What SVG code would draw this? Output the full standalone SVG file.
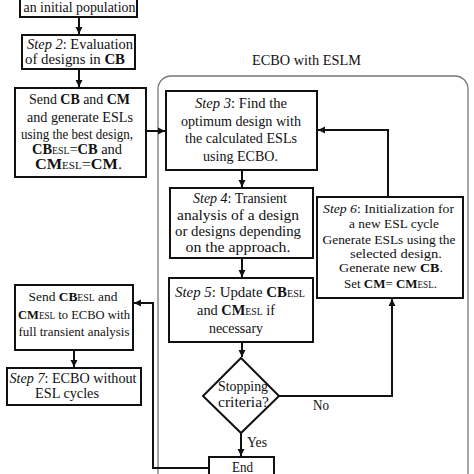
<svg xmlns="http://www.w3.org/2000/svg" width="474" height="474" viewBox="0 0 474 474">
<style>
text{font-family:"Liberation Serif","Times New Roman",serif;font-size:14px;fill:#111;text-anchor:middle}
.box{fill:#fff;stroke:#111;stroke-width:2}
.con{fill:none;stroke:#111;stroke-width:2}
.b{font-weight:bold}
.i{font-style:italic}
.s{font-size:9.5px;font-weight:normal}
.sm{font-size:13.5px}
.xs{font-size:13px}
</style>
<defs>
<marker id="ah" markerWidth="8" markerHeight="8" refX="7" refY="4" orient="auto" markerUnits="userSpaceOnUse">
<path d="M0,0.5 L7,4 L0,7.5 Z" fill="#111"/>
</marker>
</defs>
<rect width="474" height="474" fill="#fff"/>
<g id="container">
<rect x="158" y="76" width="310" height="420" rx="13" fill="none" stroke="#777" stroke-width="1.3"/>
<text x="306.5" y="65" textLength="109" lengthAdjust="spacingAndGlyphs">ECBO with ESLM</text>
</g>
<g id="connectors">
<path class="con" d="M79,17 V34" marker-end="url(#ah)"/>
<path class="con" d="M79,69 V87" marker-end="url(#ah)"/>
<path class="con" d="M146,131 H165" marker-end="url(#ah)"/>
<path class="con" d="M242,170 V187" marker-end="url(#ah)"/>
<path class="con" d="M242,258 V277" marker-end="url(#ah)"/>
<path class="con" d="M242,342 V357" marker-end="url(#ah)"/>
<path class="con" d="M241,433 V456" marker-end="url(#ah)"/>
<path class="con" d="M279,396 H392 V299" marker-end="url(#ah)"/>
<path class="con" d="M388,197 V130 H318" marker-end="url(#ah)"/>
<path class="con" d="M209,468 H153 V303 H134" marker-end="url(#ah)"/>
<path class="con" d="M74,350 V367" marker-end="url(#ah)"/>
</g>
<g id="step1">
<rect class="box" x="20" y="-10" width="117" height="27"/>
<text x="79.5" y="12" textLength="112" lengthAdjust="spacingAndGlyphs">an initial population</text>
</g>
<g id="step2">
<rect class="box" x="22" y="35" width="113" height="34"/>
<text x="80" y="49" textLength="106" lengthAdjust="spacingAndGlyphs"><tspan class="i">Step 2</tspan>: Evaluation</text>
<text x="75" y="64" textLength="100" lengthAdjust="spacingAndGlyphs">of designs in <tspan class="b">CB</tspan></text>
</g>
<g id="send">
<rect class="box" x="15" y="88" width="131" height="89"/>
<text x="79.5" y="104" textLength="101" lengthAdjust="spacingAndGlyphs">Send <tspan class="b">CB</tspan> and <tspan class="b">CM</tspan></text>
<text x="80" y="122" textLength="106" lengthAdjust="spacingAndGlyphs">and generate ESLs</text>
<text x="77" y="139" textLength="112" lengthAdjust="spacingAndGlyphs">using the best design,</text>
<text x="77" y="154" textLength="90" lengthAdjust="spacingAndGlyphs"><tspan class="b">CB</tspan><tspan class="s">ESL</tspan>=<tspan class="b">CB</tspan> and</text>
<text x="78.5" y="169" textLength="87" lengthAdjust="spacingAndGlyphs"><tspan class="b">CM</tspan><tspan class="s">ESL</tspan>=<tspan class="b">CM</tspan>.</text>
</g>
<g id="step3">
<rect class="box" x="166" y="91" width="151" height="79"/>
<text x="241" y="108" textLength="92" lengthAdjust="spacingAndGlyphs"><tspan class="i">Step 3</tspan>: Find the</text>
<text x="241" y="126" textLength="120" lengthAdjust="spacingAndGlyphs">optimum design with</text>
<text x="241" y="143" textLength="112" lengthAdjust="spacingAndGlyphs">the calculated ESLs</text>
<text x="240.5" y="161" textLength="75" lengthAdjust="spacingAndGlyphs">using ECBO.</text>
</g>
<g id="step4">
<rect class="box" x="170" y="188" width="143" height="70"/>
<text x="240" y="203" textLength="94" lengthAdjust="spacingAndGlyphs"><tspan class="i">Step 4</tspan>: Transient</text>
<text x="238" y="220" textLength="122" lengthAdjust="spacingAndGlyphs">analysis of  a design</text>
<text x="238" y="236" textLength="126" lengthAdjust="spacingAndGlyphs">or designs  depending</text>
<text x="238" y="252" textLength="105" lengthAdjust="spacingAndGlyphs">on the approach.</text>
</g>
<g id="step5">
<rect class="box" x="169" y="278" width="144" height="64"/>
<text x="240" y="297" textLength="130" lengthAdjust="spacingAndGlyphs"><tspan class="i">Step 5</tspan>: Update <tspan class="b">CB</tspan><tspan class="s">ESL</tspan></text>
<text x="236" y="315" textLength="78" lengthAdjust="spacingAndGlyphs">and <tspan class="b">CM</tspan><tspan class="s">ESL</tspan> if</text>
<text x="236" y="333" textLength="54" lengthAdjust="spacingAndGlyphs">necessary</text>
</g>
<g id="stop">
<polygon class="box" points="241,358 279,396 241,433 203,396"/>
<text x="243" y="391" textLength="50" lengthAdjust="spacingAndGlyphs">Stopping</text>
<text x="243.5" y="407" textLength="51" lengthAdjust="spacingAndGlyphs">criteria?</text>
<text x="321" y="410" textLength="16" lengthAdjust="spacingAndGlyphs">No</text>
<text x="257" y="447" textLength="20" lengthAdjust="spacingAndGlyphs">Yes</text>
</g>
<g id="step6">
<rect class="box" x="317" y="197" width="146" height="101"/>
<text class="sm" x="388.5" y="213" textLength="131" lengthAdjust="spacingAndGlyphs"><tspan class="i">Step 6</tspan>: Initialization for</text>
<text class="sm" x="394" y="228" textLength="90" lengthAdjust="spacingAndGlyphs">a new ESL cycle</text>
<text class="sm" x="389" y="244" textLength="133" lengthAdjust="spacingAndGlyphs">Generate ESLs using the</text>
<text class="sm" x="396" y="258" textLength="92" lengthAdjust="spacingAndGlyphs">selected design.</text>
<text class="sm" x="391" y="272" textLength="104" lengthAdjust="spacingAndGlyphs">Generate new <tspan class="b">CB</tspan>.</text>
<text class="sm" x="390.5" y="288" textLength="93" lengthAdjust="spacingAndGlyphs">Set <tspan class="b">CM</tspan>= <tspan class="b">CM</tspan><tspan class="s">ESL</tspan>.</text>
</g>
<g id="end">
<rect class="box" x="209" y="457" width="65" height="30"/>
<text x="242.5" y="472" textLength="21" lengthAdjust="spacingAndGlyphs">End</text>
</g>
<g id="sendesl">
<rect class="box" x="15" y="285" width="118" height="65"/>
<text class="xs" x="73" y="301" textLength="89" lengthAdjust="spacingAndGlyphs">Send <tspan class="b">CB</tspan><tspan class="s">ESL</tspan> and</text>
<text class="xs" x="74" y="318.5" textLength="112" lengthAdjust="spacingAndGlyphs"><tspan class="b">CM</tspan><tspan class="s">ESL</tspan> to ECBO with</text>
<text class="xs" x="74" y="336" textLength="111" lengthAdjust="spacingAndGlyphs">full transient analysis</text>
</g>
<g id="step7">
<rect class="box" x="7" y="368" width="134" height="37"/>
<text x="73" y="383" textLength="127" lengthAdjust="spacingAndGlyphs"><tspan class="i">Step 7</tspan>: ECBO without</text>
<text x="67" y="398" textLength="64" lengthAdjust="spacingAndGlyphs">ESL cycles</text>
</g>
</svg>
